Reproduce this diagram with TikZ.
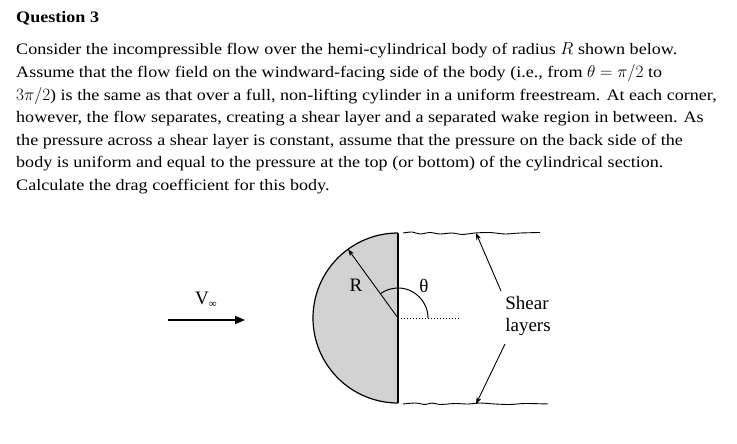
\documentclass[tikz,border=0pt]{standalone}
\usepackage{fontspec}
\setmainfont{Liberation Serif}
\newfontfamily\bodyfont[FakeStretch=1.13]{Liberation Serif}
\usetikzlibrary{arrows.meta,calc}
\begin{document}
\begin{tikzpicture}[x=1pt,y=-1pt,
  txt/.style={anchor=base west,inner sep=0pt,font=\bodyfont\fontsize{16}{18}\selectfont},
  lbl/.style={inner sep=0pt,font=\fontsize{19}{21}\selectfont},
  body/.style={line width=1.2pt},
  ptr/.style={line width=0.9pt,-{Stealth[length=7pt,width=5pt]}}]
\useasboundingbox (0,0) rectangle (737,444);
\node[txt,font=\bodyfont\bfseries\fontsize{16}{18}\selectfont] (title) at (16,23) {Question 3};
\node[txt] (l1) at (16,55) {Consider the incompressible flow over the hemi-cylindrical body of radius $R$ shown below.};
\node[txt] (l2) at (16,77.5) {Assume that the flow field on the windward-facing side of the body (i.e., from $\theta = \pi/2$ to};
\node[txt] (l3) at (16,100) {$3\pi/2$) is the same as that over a full, non-lifting cylinder in a uniform freestream. At each corner,};
\node[txt] (l4) at (16,122.5) {however, the flow separates, creating a shear layer and a separated wake region in between. As};
\node[txt] (l5) at (16,145) {the pressure across a shear layer is constant, assume that the pressure on the back side of the};
\node[txt] (l6) at (16,167.5) {body is uniform and equal to the pressure at the top (or bottom) of the cylindrical section.};
\node[txt] (l7) at (16,190) {Calculate the drag coefficient for this body.};
% body
\coordinate (c) at (398,318);
\fill[gray!35] (398,233) arc[start angle=-90,end angle=-270,radius=85] -- cycle;
\draw[body] (398,233) arc[start angle=-90,end angle=-270,radius=85];
\draw[body] (398,233) -- (398,403);
\coordinate (rt) at ($(c)+(-126:85)$);
\draw[ptr] (c) -- (rt);
\draw[dotted,line width=1pt] (c) -- (460,318);
\draw[line width=1pt] (428,318) arc[start angle=0,end angle=-126,radius=30];
\node[lbl] (R) at (356,285) {R};
\node[lbl] (th) at (424,286) {θ};
% freestream
\coordinate (a0) at (168,320);
\coordinate (a1) at (245,320);
\draw[line width=1.5pt,-{Triangle[length=10pt,width=8pt]}] (a0) -- (a1);
\node[lbl,anchor=base] (V) at (206,304) {V\raisebox{-3pt}{\fontsize{11}{11}\selectfont∞}};
% shear layers
\draw[line width=0.9pt] plot[smooth] coordinates {(403,233)(412,232)(420,234)(430,232.5)(440,234)(452,233)(462,234.5)(475,233)(490,232.5)(505,234)(520,233)(540,232.5)};
\draw[line width=0.9pt] plot[smooth] coordinates {(403,404)(415,403)(425,404.5)(432,403)(440,404.5)(455,403.5)(468,404)(480,403)(495,404)(510,404.5)(525,403.5)(548,404)};
\node[lbl,align=left,font=\fontsize{19}{22}\selectfont] (sh) at (528,316) {Shear\\layers};
\coordinate (s1) at (476,233);
\coordinate (s2) at (476,404);
\draw[ptr] (501,291) -- (s1);
\draw[ptr] (505,344) -- (s2);
\end{tikzpicture}
\end{document}
